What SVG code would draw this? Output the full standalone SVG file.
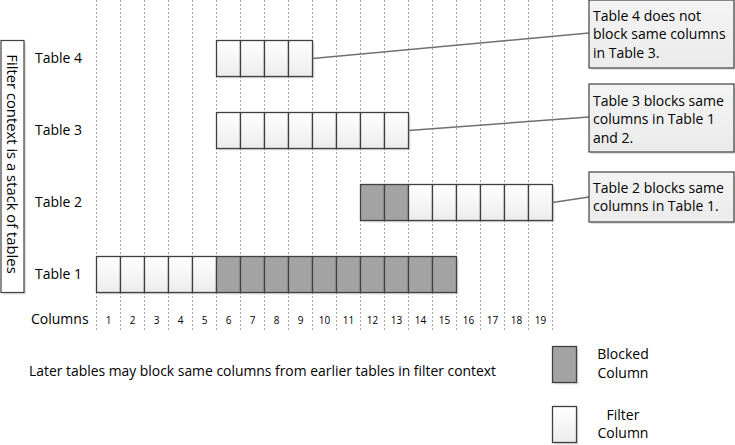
<svg xmlns="http://www.w3.org/2000/svg" width="735" height="445" viewBox="0 0 735 445">
<defs>
<linearGradient id="gF" x1="0" y1="0" x2="0" y2="1">
<stop offset="0" stop-color="#ffffff"/>
<stop offset="1" stop-color="#ececec"/>
</linearGradient>
<linearGradient id="gC" x1="0" y1="0" x2="0" y2="1">
<stop offset="0" stop-color="#f4f4f4"/>
<stop offset="1" stop-color="#ebebeb"/>
</linearGradient>
</defs>
<style>
text{font-family:"Open Sans","Liberation Sans",sans-serif;fill:#000}
.lbl{font-size:14px}
.num{font-size:10px;text-anchor:middle}
.grid{stroke:#a6a6a6;stroke-width:1;stroke-dasharray:2 2;fill:none}
.f{fill:url(#gF);stroke:#404040;stroke-width:1.3}
.b{fill:#a3a3a3;stroke:#404040;stroke-width:1.3}
.sh{fill:#000;fill-opacity:0.12}
.call{fill:url(#gC);stroke:#404040;stroke-width:1.2}
.conn{stroke:#707070;stroke-width:1.5;fill:none}
.ct{font-size:14px}
.mid{text-anchor:middle}
.note{font-size:13.9px}
</style>
<rect width="735" height="445" fill="#fff"/>
<g id="grid">
<path class="grid" d="M96.5 0V330M120.5 0V330M144.5 0V330M168.5 0V330M192.5 0V330M216.5 0V330M240.5 0V330M264.5 0V330M288.5 0V330M312.5 0V330M336.5 0V330M360.5 0V330M384.5 0V330M408.5 0V330M432.5 0V330M456.5 0V330M480.5 0V330M504.5 0V330M528.5 0V330M552.5 0V330"/>
</g>
<g id="stack-label">
<rect x="3" y="42.5" width="23" height="252" class="sh"/>
<rect x="1" y="40.5" width="23" height="252" fill="#fff" stroke="#404040" stroke-width="1.2"/>
<text class="mid" font-size="14.8px" transform="translate(12.5 164) rotate(90)" dominant-baseline="central">Filter context is a stack of tables</text>
</g>
<g id="table4">
<text class="lbl" x="35" y="63">Table 4</text>
<rect class="sh" x="218.5" y="42.5" width="96" height="36"/>
<rect class="f" x="216.5" y="40.5" width="24" height="36"/>
<rect class="f" x="240.5" y="40.5" width="24" height="36"/>
<rect class="f" x="264.5" y="40.5" width="24" height="36"/>
<rect class="f" x="288.5" y="40.5" width="24" height="36"/>
</g>
<g id="table3">
<text class="lbl" x="35" y="135">Table 3</text>
<rect class="sh" x="218.5" y="114.5" width="192" height="36"/>
<rect class="f" x="216.5" y="112.5" width="24" height="36"/>
<rect class="f" x="240.5" y="112.5" width="24" height="36"/>
<rect class="f" x="264.5" y="112.5" width="24" height="36"/>
<rect class="f" x="288.5" y="112.5" width="24" height="36"/>
<rect class="f" x="312.5" y="112.5" width="24" height="36"/>
<rect class="f" x="336.5" y="112.5" width="24" height="36"/>
<rect class="f" x="360.5" y="112.5" width="24" height="36"/>
<rect class="f" x="384.5" y="112.5" width="24" height="36"/>
</g>
<g id="table2">
<text class="lbl" x="35" y="207">Table 2</text>
<rect class="sh" x="362.5" y="186.5" width="192" height="36"/>
<rect class="b" x="360.5" y="184.5" width="24" height="36"/>
<rect class="b" x="384.5" y="184.5" width="24" height="36"/>
<rect class="f" x="408.5" y="184.5" width="24" height="36"/>
<rect class="f" x="432.5" y="184.5" width="24" height="36"/>
<rect class="f" x="456.5" y="184.5" width="24" height="36"/>
<rect class="f" x="480.5" y="184.5" width="24" height="36"/>
<rect class="f" x="504.5" y="184.5" width="24" height="36"/>
<rect class="f" x="528.5" y="184.5" width="24" height="36"/>
</g>
<g id="table1">
<text class="lbl" x="35" y="279">Table 1</text>
<rect class="sh" x="98.5" y="258.5" width="360" height="36"/>
<rect class="f" x="96.5" y="256.5" width="24" height="36"/>
<rect class="f" x="120.5" y="256.5" width="24" height="36"/>
<rect class="f" x="144.5" y="256.5" width="24" height="36"/>
<rect class="f" x="168.5" y="256.5" width="24" height="36"/>
<rect class="f" x="192.5" y="256.5" width="24" height="36"/>
<rect class="b" x="216.5" y="256.5" width="24" height="36"/>
<rect class="b" x="240.5" y="256.5" width="24" height="36"/>
<rect class="b" x="264.5" y="256.5" width="24" height="36"/>
<rect class="b" x="288.5" y="256.5" width="24" height="36"/>
<rect class="b" x="312.5" y="256.5" width="24" height="36"/>
<rect class="b" x="336.5" y="256.5" width="24" height="36"/>
<rect class="b" x="360.5" y="256.5" width="24" height="36"/>
<rect class="b" x="384.5" y="256.5" width="24" height="36"/>
<rect class="b" x="408.5" y="256.5" width="24" height="36"/>
<rect class="b" x="432.5" y="256.5" width="24" height="36"/>
</g>
<g id="columns">
<text class="lbl" x="31" y="324">Columns</text>
<text class="num" x="108.5" y="324">1</text>
<text class="num" x="132.5" y="324">2</text>
<text class="num" x="156.5" y="324">3</text>
<text class="num" x="180.5" y="324">4</text>
<text class="num" x="204.5" y="324">5</text>
<text class="num" x="228.5" y="324">6</text>
<text class="num" x="252.5" y="324">7</text>
<text class="num" x="276.5" y="324">8</text>
<text class="num" x="300.5" y="324">9</text>
<text class="num" x="324.5" y="324">10</text>
<text class="num" x="348.5" y="324">11</text>
<text class="num" x="372.5" y="324">12</text>
<text class="num" x="396.5" y="324">13</text>
<text class="num" x="420.5" y="324">14</text>
<text class="num" x="444.5" y="324">15</text>
<text class="num" x="468.5" y="324">16</text>
<text class="num" x="492.5" y="324">17</text>
<text class="num" x="516.5" y="324">18</text>
<text class="num" x="540.5" y="324">19</text>
</g>
<g id="connectors">
<path class="conn" d="M312.5 58.5L589 33"/>
<path class="conn" d="M408.5 130.5L589 117"/>
<path class="conn" d="M552.5 202.5L589 197"/>
</g>
<g id="callout4">
<rect class="sh" x="591" y="2" width="145" height="68"/>
<rect class="call" x="589" y="0" width="145" height="68"/>
<text class="ct" x="593" y="20.5">Table 4 does not</text>
<text class="ct" x="593" y="39">block same columns</text>
<text class="ct" x="593" y="57.5">in Table 3.</text>
</g>
<g id="callout3">
<rect class="sh" x="591" y="86" width="145" height="68"/>
<rect class="call" x="589" y="84" width="145" height="68"/>
<text class="ct" x="593" y="105.5">Table 3 blocks same</text>
<text class="ct" x="593" y="124">columns in Table 1</text>
<text class="ct" x="593" y="142.5">and 2.</text>
</g>
<g id="callout2">
<rect class="sh" x="591" y="174" width="145" height="50"/>
<rect class="call" x="589" y="172" width="145" height="50"/>
<text class="ct" x="593" y="192.5">Table 2 blocks same</text>
<text class="ct" x="593" y="211">columns in Table 1.</text>
</g>
<g id="note">
<text class="note" x="29" y="376">Later tables may block same columns from earlier tables in filter context</text>
</g>
<g id="legend-blocked">
<rect class="sh" x="554.5" y="348.5" width="24" height="36"/>
<rect class="b" x="552.5" y="346.5" width="24" height="36"/>
<text class="lbl mid" x="623" y="359">Blocked</text>
<text class="lbl mid" x="623" y="378">Column</text>
</g>
<g id="legend-filter">
<rect class="sh" x="554.5" y="408.5" width="24" height="36"/>
<rect class="f" x="552.5" y="406.5" width="24" height="36"/>
<text class="lbl mid" x="623" y="419.5">Filter</text>
<text class="lbl mid" x="623" y="438">Column</text>
</g>
</svg>
